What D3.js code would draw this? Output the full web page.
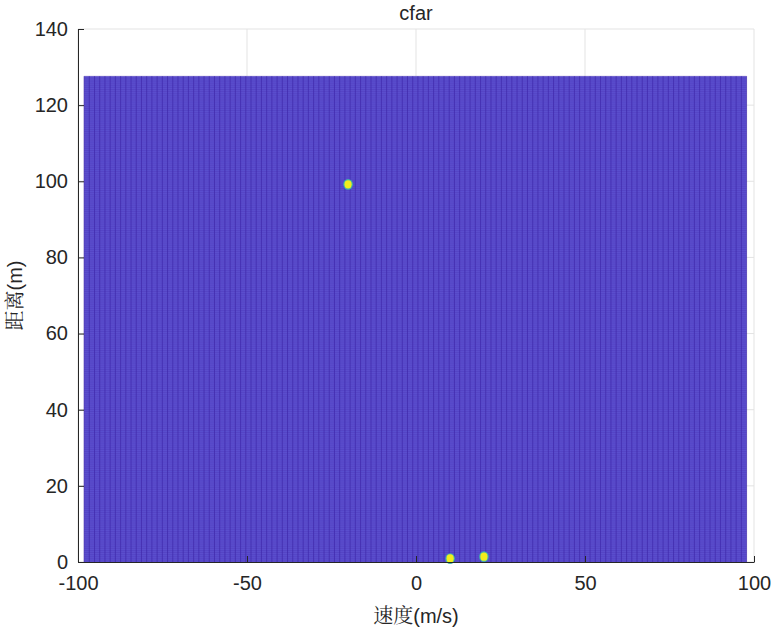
<!DOCTYPE html>
<html>
<head>
<meta charset="utf-8">
<script src="https://cdn.jsdelivr.net/npm/d3@7"></script>
<style>
  body { margin: 0; background: #fff; }
  text { font-family: "Liberation Sans", Arial, sans-serif; fill: #262626; }
</style>
</head>
<body>
<svg id="chart" width="774" height="630"></svg>
<script>
// axis ticks
var xTicks = [-100, -50, 0, 50, 100];
var yTicks = [0, 20, 40, 60, 80, 100, 120, 140];

// cfar grid: velocity / range extents and bin counts
var velExtent = [-98.2, 97.8];
var velBins = 128;
var rangeExtent = [0, 127.6];
var rangeBins = 256;

// detections (velocity m/s, range m)
var detVel = [-20.1, 10.1, 20.1];
var detRange = [99.2, 0.9, 1.4];

var svg = d3.select('#chart');
var margin = {left: 78, right: 20, top: 29, bottom: 68};
var width = 774 - margin.left - margin.right;
var height = 630 - margin.top - margin.bottom;

var x = d3.scaleLinear().domain([-100, 100]).range([margin.left, margin.left + width]);
var y = d3.scaleLinear().domain([0, 140]).range([margin.top + height, margin.top]);

// grid
var grid = svg.append('g');
grid.selectAll('.gx').data(xTicks).enter().append('line')
  .attr('x1', d => x(d)).attr('x2', d => x(d))
  .attr('y1', y(0)).attr('y2', y(140))
  .attr('stroke', '#e3e3e3').attr('stroke-width', 1);
grid.selectAll('.gy').data(yTicks).enter().append('line')
  .attr('y1', d => y(d)).attr('y2', d => y(d))
  .attr('x1', x(-100)).attr('x2', x(100))
  .attr('stroke', '#e3e3e3').attr('stroke-width', 1);

// mesh surface (view from top)
var velStep = (velExtent[1] - velExtent[0]) / (velBins - 1);
var rangeStep = (rangeExtent[1] - rangeExtent[0]) / (rangeBins - 1);
var vels = d3.range(velBins).map(i => velExtent[0] + i * velStep);
var ranges = d3.range(rangeBins).map(i => rangeExtent[0] + i * rangeStep);

var mesh = svg.append('g');
mesh.append('rect')
  .attr('x', x(velExtent[0])).attr('y', y(rangeExtent[1]))
  .attr('width', x(velExtent[1]) - x(velExtent[0]))
  .attr('height', y(rangeExtent[0]) - y(rangeExtent[1]))
  .attr('fill', '#5c50cf');
mesh.selectAll('.mv').data(vels).enter().append('line')
  .attr('x1', d => x(d)).attr('x2', d => x(d))
  .attr('y1', y(rangeExtent[0])).attr('y2', y(rangeExtent[1]))
  .attr('stroke', '#3e26a8').attr('stroke-width', 0.8).attr('stroke-opacity', 0.8);
mesh.selectAll('.mh').data(ranges).enter().append('line')
  .attr('y1', d => y(d)).attr('y2', d => y(d))
  .attr('x1', x(velExtent[0])).attr('x2', x(velExtent[1]))
  .attr('stroke', '#3e26a8').attr('stroke-width', 0.45).attr('stroke-opacity', 0.6);

// detections: parula-coloured blobs
var dets = detVel.map((v, i) => ({v: v, r: detRange[i]}));
var det = svg.append('g');
det.selectAll('.halo').data(dets).enter().append('ellipse')
  .attr('cx', d => x(d.v)).attr('cy', d => y(d.r))
  .attr('rx', 4.8).attr('ry', 5.4)
  .attr('fill', '#3fb3a8');
det.selectAll('.core').data(dets).enter().append('ellipse')
  .attr('cx', d => x(d.v)).attr('cy', d => y(d.r))
  .attr('rx', 3.6).attr('ry', 4.2)
  .attr('fill', '#f2ee1c');

// axes
var axisColor = '#262626';
var xAxis = svg.append('g').attr('transform', 'translate(0,' + y(0) + ')')
  .call(d3.axisBottom(x).tickValues(xTicks).tickFormat(d => String(d))
    .tickSizeInner(-6).tickSizeOuter(0).tickPadding(14));
var yAxis = svg.append('g').attr('transform', 'translate(' + x(-100) + ',0)')
  .call(d3.axisLeft(y).tickValues(yTicks).tickFormat(d => String(d))
    .tickSizeInner(-6).tickSizeOuter(0).tickPadding(10));
[xAxis, yAxis].forEach(a => {
  a.select('.domain').attr('stroke', axisColor).attr('stroke-width', 1);
  a.selectAll('.tick line').attr('stroke', axisColor);
  a.selectAll('.tick text').attr('fill', axisColor)
    .style('font-family', '"Liberation Sans", Arial, sans-serif').style('font-size', '20px');
});

// titles
svg.append('text').attr('x', x(0)).attr('y', 20).attr('text-anchor', 'middle')
  .style('font-size', '20px').text('cfar');
svg.append('text').attr('x', x(0)).attr('y', 623).attr('text-anchor', 'middle')
  .style('font-size', '20px')
  .html('<tspan style="font-family:\'Noto Serif CJK SC\',\'Noto Sans CJK SC\',serif">速度</tspan>(m/s)');
svg.append('text').attr('transform', 'translate(22,' + y(70) + ') rotate(-90)')
  .attr('text-anchor', 'middle').style('font-size', '20px')
  .html('<tspan style="font-family:\'Noto Serif CJK SC\',\'Noto Sans CJK SC\',serif">距离</tspan>(m)');
</script>
</body>
</html>
